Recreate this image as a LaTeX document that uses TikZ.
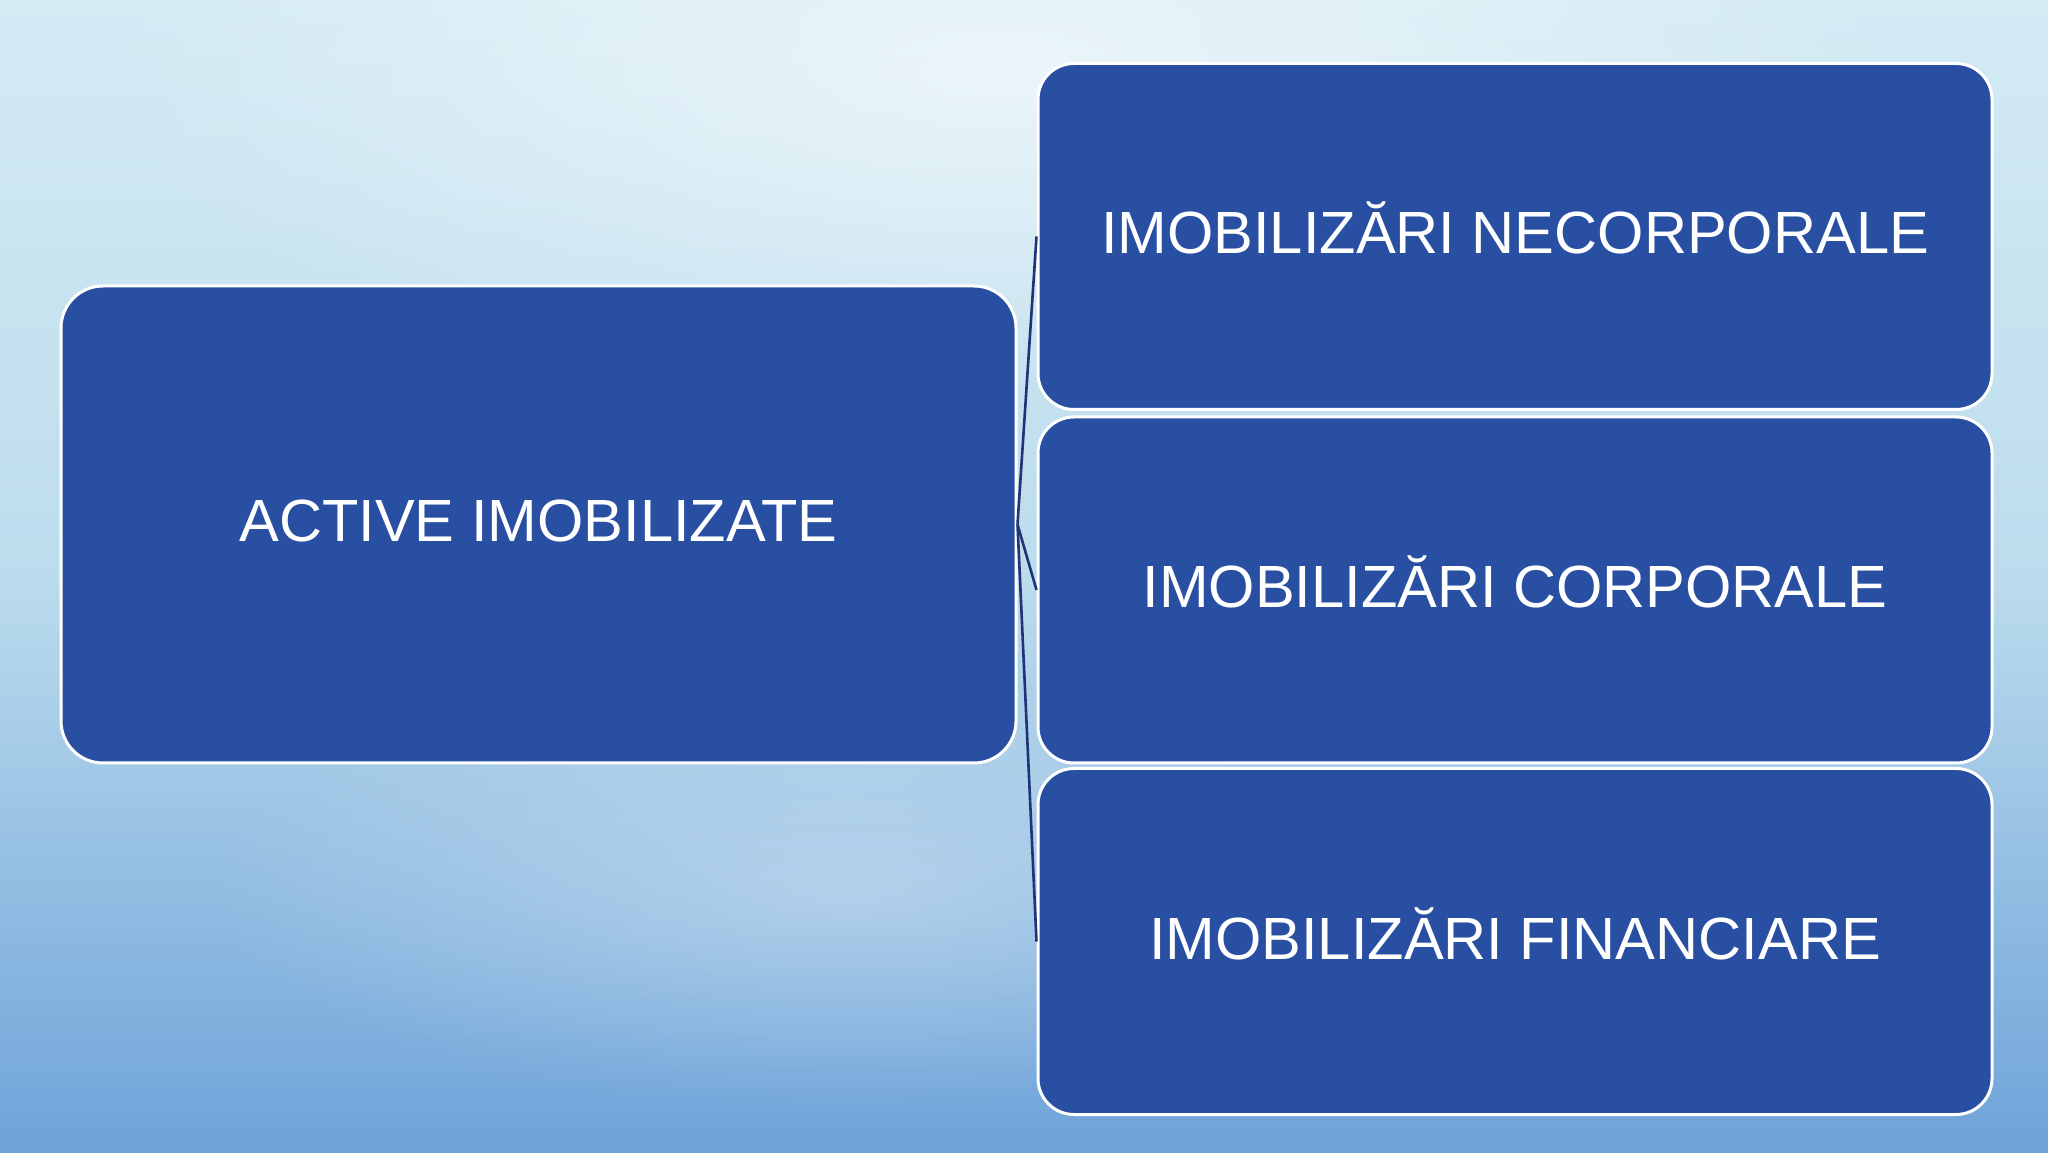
\documentclass[tikz,border=0pt]{standalone}
\usepackage{fontspec}
\setmainfont{Liberation Sans}
\usetikzlibrary{fadings}
\definecolor{boxblue}{RGB}{41,79,163}
\definecolor{linkblue}{RGB}{30,52,118}
\definecolor{bgtop}{RGB}{212,235,244}
\definecolor{bgmid}{RGB}{188,220,237}
\definecolor{bgbot}{RGB}{110,163,217}
\tikzfading[name=glowfade, inner color=transparent!0, outer color=transparent!100]
\tikzset{
  mainbox/.style={draw=white, line width=3pt, fill=boxblue, rounded corners=42pt,
    text=white, inner sep=0pt, text height=43pt, text depth=8pt,
    font=\fontsize{59.6}{70}\selectfont},
  subbox/.style={mainbox, rounded corners=36pt, minimum width=954pt, minimum height=346pt},
  link/.style={draw=linkblue, line width=2.6pt}
}
\begin{document}
\begin{tikzpicture}[x=1pt,y=1pt]
\useasboundingbox (0,0) rectangle (2048,1152);
% background
\shade[top color=bgtop, bottom color=bgbot, middle color=bgmid] (0,0) rectangle (2048,1152);
\fill[white, opacity=0.55, path fading=glowfade] (1000,1080) ellipse [x radius=900pt, y radius=330pt];
\fill[white, opacity=0.3, path fading=glowfade] (850,260) ellipse [x radius=650pt, y radius=220pt];
% nodes
\node[mainbox, minimum width=955pt, minimum height=477pt] (act) at (538.5,627.5) {ACTIVE IMOBILIZATE};
\node[subbox] (nec) at (1515,915.5) {IMOBILIZĂRI NECORPORALE};
\node[subbox] (cor) at (1515,562) {IMOBILIZĂRI CORPORALE};
\node[subbox] (fin) at (1515,210.5) {IMOBILIZĂRI FINANCIARE};
% connectors
\draw[link] (act.east) -- (nec.west);
\draw[link] (act.east) -- (cor.west);
\draw[link] (act.east) -- (fin.west);
\end{tikzpicture}
\end{document}
